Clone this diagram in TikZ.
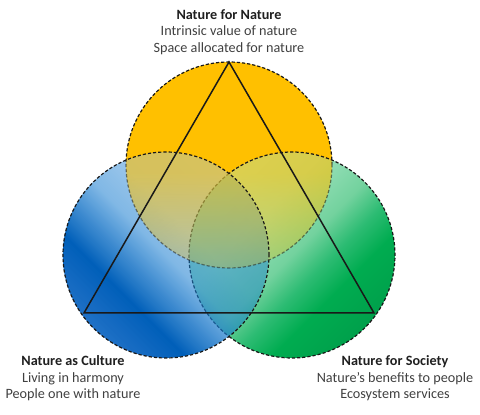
\documentclass[tikz,border=0pt]{standalone}
\usepackage{fontspec}
\setmainfont{Carlito}
\usetikzlibrary{fadings}
\definecolor{yel}{RGB}{255,192,0}
\definecolor{bA}{RGB}{20,105,195}
\definecolor{bB}{RGB}{0,95,185}
\definecolor{bC}{RGB}{30,120,200}
\definecolor{bD}{RGB}{25,125,208}
\definecolor{bE}{RGB}{40,130,210}
\definecolor{gA}{RGB}{0,160,75}
\definecolor{gB}{RGB}{0,172,80}
\definecolor{gC}{RGB}{45,188,115}
\definecolor{gD}{RGB}{115,210,158}
\definecolor{gE}{RGB}{155,225,188}
\definecolor{gF}{RGB}{170,232,198}
\pgfdeclareverticalshading{blueshade}{100bp}{color(0bp)=(bA); color(25bp)=(bA); color(36bp)=(bB); color(43bp)=(bC); color(50bp)=(bD); color(60bp)=(bD); color(75bp)=(bE); color(100bp)=(bE)}
\pgfdeclareverticalshading{bluefadeshade}{100bp}{color(0bp)=(pgftransparent!5); color(25bp)=(pgftransparent!5); color(36bp)=(pgftransparent!0); color(43bp)=(pgftransparent!15); color(50bp)=(pgftransparent!45); color(58bp)=(pgftransparent!55); color(75bp)=(pgftransparent!55); color(100bp)=(pgftransparent!55)}
\pgfdeclarefading{bluefade}{\pgfuseshading{bluefadeshade}}
\pgfdeclareverticalshading{greenshade}{100bp}{color(0bp)=(gA); color(25bp)=(gA); color(36bp)=(gB); color(43bp)=(gC); color(50bp)=(gD); color(62bp)=(gE); color(75bp)=(gF); color(100bp)=(gF)}
\pgfdeclareverticalshading{yfadeshade}{100bp}{color(0bp)=(pgftransparent!75); color(25bp)=(pgftransparent!75); color(40bp)=(pgftransparent!52); color(48bp)=(pgftransparent!40); color(100bp)=(pgftransparent!40)}
\pgfdeclarefading{yfade}{\pgfuseshading{yfadeshade}}
\pgfdeclareverticalshading{yfadeSshade}{100bp}{color(0bp)=(pgftransparent!50); color(25bp)=(pgftransparent!50); color(50bp)=(pgftransparent!45); color(52bp)=(pgftransparent!0); color(100bp)=(pgftransparent!0)}
\pgfdeclarefading{yfadeS}{\pgfuseshading{yfadeSshade}}
\begin{document}
\begin{tikzpicture}[x=1pt,y=1pt,
  edge/.style={draw=black!90, line width=1.2pt, dash pattern=on 3.2pt off 2pt},
  title/.style={font=\fontsize{14.2}{17}\selectfont\bfseries, text=black!88, inner sep=0pt, anchor=base},
  body/.style={font=\fontsize{14.2}{17}\selectfont, text=black!75, inner sep=0pt, anchor=base},
  tri/.style={draw=black!90, line width=1.5pt, line join=miter}]
\useasboundingbox (0,0) rectangle (480,415);
\coordinate (cy) at (229,250);
\coordinate (cb) at (166,160);
\coordinate (cg) at (292,160);
\def\R{103}
% green
\shade[shading=greenshade, shading angle=45] (cg) circle (\R);
\draw[edge] (cg) ++(127.71:\R) arc[start angle=127.71, end angle=232.29, radius=\R];
% blue
\shade[shading=blueshade, shading angle=-45, path fading=bluefade, fading angle=-45] (cb) circle (\R);
% yellow: translucent over the overlaps, opaque where alone
\fill[yel, path fading=yfade] (cy) circle (\R);
\fill[yel] (cy) ++(177.23:\R) arc[start angle=177.23, end angle=2.77, radius=\R]
  arc[start angle=67.22, end angle=127.71, radius=\R]
  arc[start angle=52.29, end angle=112.78, radius=\R] -- cycle;
\draw[edge, path fading=yfadeS] (cy) circle (\R);
% outlines on top
\draw[edge] (cg) ++(-127.71:\R) arc[start angle=-127.71, end angle=127.71, radius=\R];
\draw[edge] (cb) circle (\R);
% triangle
\coordinate (apex) at (229,353);
\coordinate (bl) at (84,102);
\coordinate (br) at (374,102);
\draw[tri] (apex) -- (bl) -- (br) -- cycle;
% labels
\node[title] (nn) at (229,395.5) {Nature for Nature};
\node[body] (nn1) at (229,379) {Intrinsic value of nature};
\node[body] (nn2) at (229,362.5) {Space allocated for nature};
\node[title] (nc) at (73,49) {Nature as Culture};
\node[body] (nc1) at (73,32.5) {Living in harmony};
\node[body] (nc2) at (73,16) {People one with nature};
\node[title] (ns) at (395,49) {Nature for Society};
\node[body] (ns1) at (395,32.5) {Nature’s benefits to people};
\node[body] (ns2) at (395,16) {Ecosystem services};
\end{tikzpicture}
\end{document}
